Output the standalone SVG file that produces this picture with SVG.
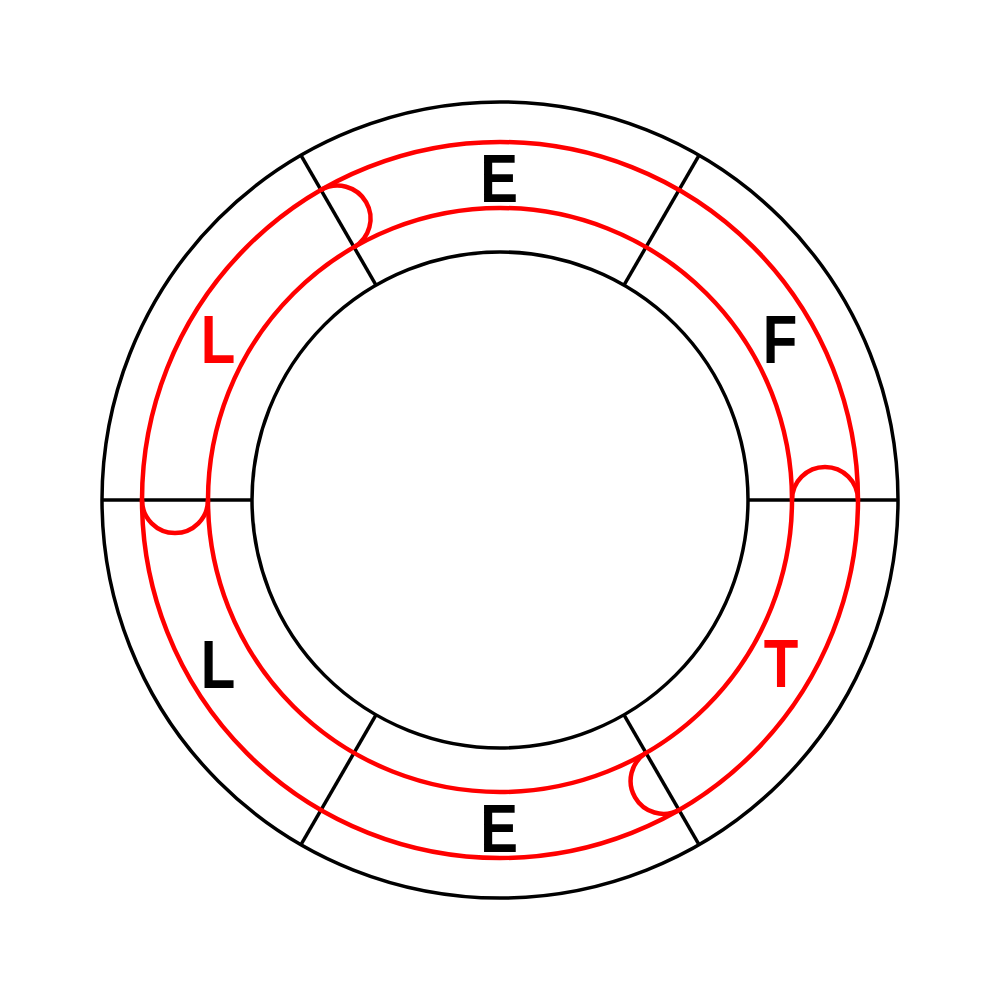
<svg xmlns="http://www.w3.org/2000/svg" width="1000" height="1000" viewBox="0 0 1000 1000">
<style>
.blk{fill:none;stroke:#000;stroke-width:3.5}
.red{fill:none;stroke:#f00;stroke-width:4.5}
.lbl{font-family:"Liberation Sans",Arial,sans-serif;font-weight:bold;font-size:69px;text-anchor:middle}
</style>
<rect width="1000" height="1000" fill="#fff"/>
<g id="ring">
<circle class="blk" cx="500" cy="500" r="398"/>
<circle class="blk" cx="500" cy="500" r="248"/>
<line class="blk" x1="748" y1="500" x2="898" y2="500"/>
<line class="blk" x1="102" y1="500" x2="252" y2="500"/>
<line class="blk" x1="301" y1="155.3" x2="376" y2="285.2"/>
<line class="blk" x1="699" y1="155.3" x2="624" y2="285.2"/>
<line class="blk" x1="301" y1="844.7" x2="376" y2="714.8"/>
<line class="blk" x1="699" y1="844.7" x2="624" y2="714.8"/>
</g>
<g id="connectors">
<circle class="red" cx="500" cy="500" r="358"/>
<circle class="red" cx="500" cy="500" r="292"/>
<path class="red" d="M321 190 A33 33 0 0 1 354 247.2"/>
<path class="red" d="M142 500 A33 33 0 0 0 208 500"/>
<path class="red" d="M792 500 A33 33 0 0 1 858 500"/>
<path class="red" d="M646 752.9 A33 33 0 0 0 679 810"/>
</g>
<g id="label-top" transform="translate(499 202) scale(0.82 1)"><text class="lbl">E</text></g>
<g id="label-F" transform="translate(780 363) scale(0.82 1)"><text class="lbl">F</text></g>
<g id="label-T" transform="translate(781 687) scale(0.82 1)"><text class="lbl" fill="#f00">T</text></g>
<g id="label-bottom" transform="translate(499 852) scale(0.82 1)"><text class="lbl">E</text></g>
<g id="label-L-black" transform="translate(218 688) scale(0.82 1)"><text class="lbl">L</text></g>
<g id="label-L-red" transform="translate(218 363) scale(0.82 1)"><text class="lbl" fill="#f00">L</text></g>
</svg>
